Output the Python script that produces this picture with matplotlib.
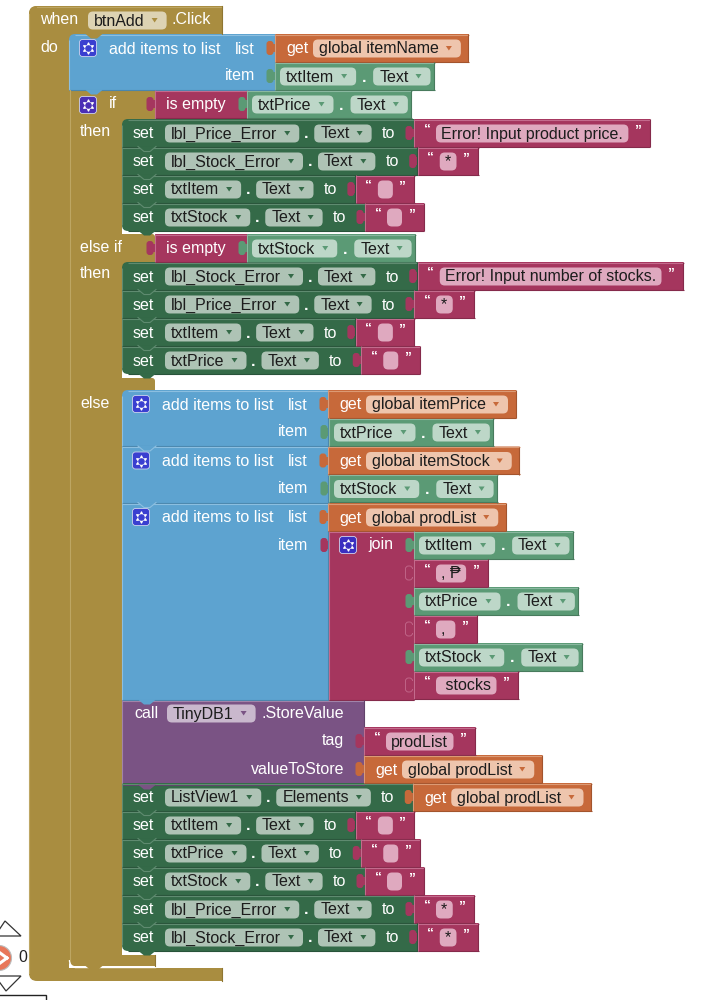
import matplotlib
matplotlib.use("Agg")
import matplotlib.pyplot as plt
from matplotlib.patches import FancyBboxPatch, Polygon, Circle, Rectangle, PathPatch
from matplotlib.path import Path

plt.rcParams["font.family"] = ["Liberation Sans", "DejaVu Sans"]

# block contents
event_comp = "btnAdd"
event_name = ".Click"
first_list = ("global itemName", "txtItem")
if_field = "txtPrice"
elseif_field = "txtStock"
then_rows = [("lbl_Price_Error", "Error! Input product price."), ("lbl_Stock_Error", "*"),
             ("txtItem", ""), ("txtStock", "")]
elseif_rows = [("lbl_Stock_Error", "Error! Input number of stocks."), ("lbl_Price_Error", "*"),
               ("txtItem", ""), ("txtPrice", "")]
else_lists = [("global itemPrice", "txtPrice"), ("global itemStock", "txtStock")]
join_list = "global prodList"
join_items = ["txtItem", ", ₱", "txtPrice", ", ", "txtStock", " stocks"]
db_name = "TinyDB1"
db_tag = "prodList"
db_value = "global prodList"
view_name = "ListView1"
tail_rows = [("txtItem", ""), ("txtPrice", ""), ("txtStock", ""), ("lbl_Price_Error", "*"), ("lbl_Stock_Error", "*")]

GOLD = "#a98d40"
BLUE = "#5da3d0"
DARK = "#346a48"
GREEN = "#5b9a75"
CRIM = "#a5365e"
ORANGE = "#c7693a"
PURPLE = "#7a5384"
PILLS = {GOLD: "#ddd3b3", BLUE: "#bfdaec", DARK: "#aec3b5", GREEN: "#bdd7c8", CRIM: "#dfa9bf",
         ORANGE: "#eec5ad", PURPLE: "#c9b8cd"}
EDGES = {GOLD: "#8f7632", BLUE: "#4a86ad", DARK: "#28533a", GREEN: "#487b5d", CRIM: "#852a4b",
         ORANGE: "#a3542d", PURPLE: "#61426a"}
LIGHTS = {GOLD: "#bda663", BLUE: "#8cbfe0", DARK: "#5f8b70", GREEN: "#8ab8a0", CRIM: "#c46b8d",
          ORANGE: "#dc9a74", PURPLE: "#a184a9"}
FS = 11.5
H = 28

fig = plt.figure(figsize=(7.12, 10), dpi=100)
ax = fig.add_axes([0, 0, 1, 1])
ax.set_xlim(0, 712)
ax.set_ylim(1000, 0)
ax.axis("off")
renderer = fig.canvas.get_renderer()
tabs = []


def tw(s):
    t = ax.text(0, 0, s.replace(" ", "\u00a0"), fontsize=FS)
    w = t.get_window_extent(renderer).width
    t.remove()
    return w


def label(x, cy, s, ha="left", color="white", size=FS, weight="normal"):
    ax.text(x, cy + 1, s, ha=ha, va="center", color=color, fontsize=size, fontweight=weight)


def rect(x0, y0, x1, y1, color, tl=0, tr=0, bl=0, br=0, line=True):
    verts = [(x0 + tl, y0), (x1 - tr, y0), (x1, y0), (x1, y0 + tr), (x1, y1 - br), (x1, y1), (x1 - br, y1),
             (x0 + bl, y1), (x0, y1), (x0, y1 - bl), (x0, y0 + tl), (x0, y0), (x0 + tl, y0)]
    codes = [Path.MOVETO, Path.LINETO, Path.CURVE3, Path.CURVE3, Path.LINETO, Path.CURVE3, Path.CURVE3,
             Path.LINETO, Path.CURVE3, Path.CURVE3, Path.LINETO, Path.CURVE3, Path.CURVE3]
    ax.add_patch(PathPatch(Path(verts, codes), facecolor=color, edgecolor="none", lw=0))
    if line:
        ax.plot([x0, x0], [y0 + tl, y1 - bl], color=LIGHTS[color], lw=0.8, solid_capstyle="butt")
        ax.plot([x0 + tl, x1], [y0 + 0.5, y0 + 0.5], color=LIGHTS[color], lw=0.8, solid_capstyle="butt")
        ax.plot([x1 - 0.5, x1 - 0.5], [y0, y1], color=EDGES[color], lw=0.8, solid_capstyle="butt")
        ax.plot([x0 + bl, x1], [y1 - 0.5, y1 - 0.5], color=EDGES[color], lw=0.8, solid_capstyle="butt")


def pill(x, cy, s, color, arrow=True):
    w = tw(s) + (28 if arrow else 12)
    ax.add_patch(FancyBboxPatch((x + 3, cy - 5.5), w - 6, 12, boxstyle="round,pad=3,rounding_size=5",
                                facecolor=PILLS[color], edgecolor="none"))
    label(x + 6, cy, s, color="#1c1c1c")
    if arrow:
        ax.add_patch(Polygon([(x + w - 15, cy - 2), (x + w - 9, cy - 2), (x + w - 12, cy + 2.5)],
                             facecolor=color, edgecolor="none"))
    return x + w


def socket(x, cy, color, outline=False):
    ec = LIGHTS[color] if outline else "none"
    ax.add_patch(FancyBboxPatch((x - 6.5, cy - 5), 3, 10, boxstyle="round,pad=2,rounding_size=3",
                                facecolor=color, edgecolor=ec, lw=0.6))
    ax.add_patch(Rectangle((x - 4, cy - 4), 5, 8, facecolor=color, edgecolor="none"))


def gear(cx, cy, color):
    ax.add_patch(FancyBboxPatch((cx - 6, cy - 6), 12, 12, boxstyle="round,pad=2.5,rounding_size=3",
                                facecolor=color, edgecolor="#cfd4ee", lw=0.6))
    ax.scatter([cx], [cy], s=62, marker=(6, 1, 0), color="white", zorder=3)
    ax.scatter([cx], [cy], s=14, marker="o", color=color, zorder=3)


def tab(x, y, color, edge=False):
    tabs.append((x, y, color, edge))


def draw_tabs():
    for x, y, color, edge in tabs:
        pts = [(x + 16, y - 0.5), (x + 22, y + 4.5), (x + 28, y + 4.5), (x + 34, y - 0.5)]
        ax.add_patch(Polygon(pts, facecolor=color, edgecolor="none", zorder=2))
        if edge:
            ax.plot([p[0] for p in pts], [p[1] for p in pts], color=LIGHTS[color], lw=0.8, zorder=2)


def text_prop(x, cy, name, prop="Text"):
    # green getter block, width comes from its text
    w = 5 + tw(name) + 28 + 17 + tw(prop) + 27 + 5
    rect(x, cy - 14, x + w, cy + 14, GREEN)
    socket(x, cy, GREEN)
    px = pill(x + 5, cy, name, GREEN)
    label(px + 8, cy, ".", ha="center", weight="bold")
    pill(px + 17, cy, prop, GREEN)
    return x + w


def string_block(x, cy, s, outline=False):
    inner = max(15, tw(s) + 10.5)
    w = 22 + inner + 22
    rect(x, cy - 14, x + w, cy + 14, CRIM)
    socket(x, cy, CRIM, outline)
    label(x + 13, cy - 4, "“", ha="center", size=10, weight="bold")
    ax.add_patch(FancyBboxPatch((x + 25, cy - 5.5), inner - 6, 12, boxstyle="round,pad=3,rounding_size=5",
                                facecolor=PILLS[CRIM], edgecolor="none"))
    if s:
        label(x + 22 + 5.25, cy, s.replace(" ", "\u00a0"), color="#1c1c1c")
    label(x + 22 + inner + 9, cy - 4, "”", ha="center", size=10, weight="bold")
    return x + w


def get_block(x, cy, s):
    w = 38 + tw(s) + 29 + 7
    rect(x, cy - 14, x + w, cy + 14, ORANGE)
    socket(x, cy, ORANGE)
    label(x + 11, cy, "get")
    pill(x + 38, cy, s, ORANGE)
    return x + w


def set_row(x0, cy, name, prop, tl=0, bl=0, edge=True):
    w = 43 + tw(name) + 28 + 15 + tw(prop) + 27 + 10 + tw("to") + 20
    rect(x0, cy - 14, x0 + w, cy + 14, DARK, tl=tl, bl=bl)
    label(x0 + 11, cy, "set")
    px = pill(x0 + 43, cy, name, DARK)
    label(px + 7, cy, ".", ha="center", weight="bold")
    px2 = pill(px + 15, cy, prop, DARK)
    label(px2 + 10, cy, "to")
    tab(x0, cy + 14, DARK, edge)
    return x0 + w


def set_stack(x0, first_y, rows, top_round=True):
    for i, (name, val) in enumerate(rows):
        cy = first_y + i * H
        last = i == len(rows) - 1
        right = set_row(x0, cy, name, "Text", tl=6 if i == 0 and top_round else 0, bl=6 if last else 0, edge=not last)
        string_block(right, cy, val)


def add_items(x0, y0, y1, get_name, tl=0, edge=True):
    rect(x0, y0, x0 + 206, y1, BLUE, tl=tl)
    cy = y0 + 14
    gear(x0 + 19, cy, "#3a3fd0")
    label(x0 + 40, cy, "add items to list")
    label(x0 + 186, cy, "list", ha="right")
    get_block(x0 + 206, cy, get_name)
    tab(x0, y1, BLUE, edge)


# event block
rect(29, 6, 222, 34, GOLD, tl=8, line=False)
rect(29, 6, 69, 975, GOLD, tl=8, line=False)
rect(29, 30, 80, 42, GOLD, line=False)
rect(29, 968, 222, 981, GOLD, bl=8, line=False)
ax.plot([29, 29], [14, 973], color=LIGHTS[GOLD], lw=0.8)
ax.plot([37, 222], [6.5, 6.5], color=LIGHTS[GOLD], lw=0.8)
ax.plot([221.5, 221.5], [6, 34], color=EDGES[GOLD], lw=0.8)
ax.plot([221.5, 221.5], [968, 981], color=EDGES[GOLD], lw=0.8)
label(40, 19, "when")
px = pill(88, 20, event_comp, GOLD)
label(px + 5, 19, event_name)
label(40, 46, "do")
tab(69, 34, GOLD)

# first add items
add_items(69, 34, 90, first_list[0], tl=6, edge=False)
label(255, 75, "item", ha="right")
text_prop(275, 76, first_list[1])

# if block body
rect(69, 90, 155, 119, GOLD, line=False)
rect(69, 119, 122, 966, GOLD, bl=6, line=False)
rect(69, 234, 155, 262, GOLD, tr=3, line=False)
rect(69, 378, 155, 390, GOLD, tr=3, line=False)
rect(118, 115, 130, 126, GOLD, line=False)
rect(118, 258, 130, 269, GOLD, line=False)
rect(118, 386, 130, 397, GOLD, line=False)
rect(69, 955, 155, 966, GOLD, bl=6, line=False)
ax.plot([69.5, 69.5], [90, 960], color=LIGHTS[GOLD], lw=0.8)
ax.plot([75, 155], [967, 967], color="white", lw=1.0)
ax.add_patch(PathPatch(Path([(69.5, 960), (69.5, 967), (76, 967)], [Path.MOVETO, Path.CURVE3, Path.CURVE3]),
                       facecolor="none", edgecolor="white", lw=1.0))
ax.plot([154.5, 154.5], [955, 966], color=EDGES[GOLD], lw=0.8)
gear(88, 105, "#4a2fb5")
label(109, 103, "if")
label(80, 130, "then")
label(80, 247, "else if")
label(80, 273, "then")
label(80, 402, "else")
tab(69, 966, GOLD)

for cy, field in [(104, if_field), (248, elseif_field)]:
    rect(155, cy - 14, 247, cy + 14, CRIM)
    socket(155, cy, CRIM)
    label(166, cy - 1, "is empty")
    text_prop(247, cy, field)

set_stack(122, 133, then_rows)
set_stack(122, 276, elseif_rows)

# else branch, list blocks
for i, (get_name, field) in enumerate(else_lists):
    y0 = 390 + i * 56.5
    add_items(122, y0, y0 + 56.5, get_name, tl=6 if i == 0 else 0)
    label(308, y0 + 41, "item", ha="right")
    text_prop(329, y0 + 42, field)

add_items(122, 503, 700, join_list, edge=False)
label(308, 544, "item", ha="right")

# join block
rect(329, 531, 414, 700, CRIM)
socket(329, 545, CRIM)
gear(348, 545, "#3a2fc0")
label(368, 544, "join")
for i, item in enumerate(join_items):
    cy = 545 + i * 28
    if item.startswith("txt"):
        text_prop(414, cy, item)
    else:
        string_block(414, cy, item, outline=True)

# TinyDB call
rect(122, 700, 364, 785, PURPLE)
label(134, 712, "call")
px = pill(167, 713, db_name, PURPLE)
label(px + 6, 712, ".StoreValue")
label(344, 740, "tag", ha="right")
label(344, 768, "valueToStore", ha="right")
tab(122, 785, PURPLE)
string_block(364, 741, db_tag)
get_block(364, 769, db_value)

# tail of the else stack
right = set_row(122, 797, view_name, "Elements")
get_block(right, 797, join_list)
set_stack(122, 825, tail_rows, top_round=False)

draw_tabs()

# warning counter at lower left
tri = dict(facecolor="white", edgecolor="#333333", lw=0.9)
ax.add_patch(Polygon([(-5, 936), (5, 921), (21, 936)], **tri))
ax.add_patch(Polygon([(-5, 976), (6, 991), (21, 976)], **tri))
ax.add_patch(Circle((-1, 958), 12.5, facecolor="#e8775a", edgecolor="#bbbbbb", lw=0.8))
ax.plot([-4, 7], [950, 958], color="white", lw=2.2)
ax.plot([-4, 7], [966, 958], color="white", lw=2.2)
label(18, 957, "0", color="#222222")
ax.add_patch(Rectangle((-2, 995), 48, 10, facecolor="white", edgecolor="#222222", lw=1.0))

fig.savefig("out.png", dpi=100)
